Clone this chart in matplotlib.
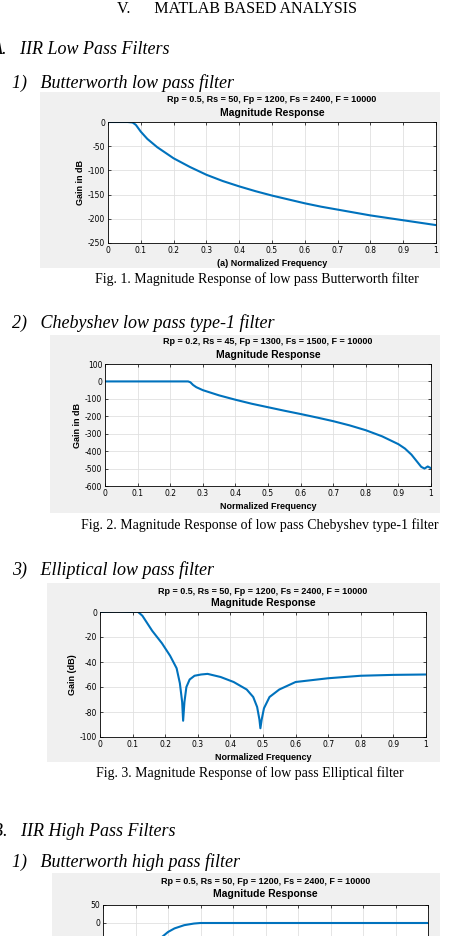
import matplotlib
matplotlib.use("Agg")
import matplotlib.pyplot as plt

plt.rcParams["axes.unicode_minus"] = False
W, H = 474, 936
BLUE = "#0072BD"

bw_x = [0, 0.02, 0.04, 0.06, 0.075, 0.085, 0.1, 0.12, 0.15, 0.2, 0.25, 0.3, 0.35, 0.4, 0.45, 0.5, 0.55, 0.6, 0.65, 0.7, 0.75, 0.8, 0.85, 0.9, 0.95, 1.0]
bw_y = [0, 0, 0, 0, -1, -6, -20, -35, -52, -75, -93, -109, -122, -133, -143, -152, -160, -168, -175, -181, -187, -193, -198, -203, -208, -213]

ch_x = [0, 0.1, 0.2, 0.255, 0.262, 0.27, 0.28, 0.3, 0.35, 0.4, 0.45, 0.5, 0.55, 0.6, 0.65, 0.7, 0.75, 0.8, 0.85, 0.9, 0.92, 0.94, 0.955, 0.97, 0.98, 0.99, 1.0]
ch_y = [0, 0, 0, 0, -5, -20, -33, -50, -80, -105, -128, -148, -168, -187, -207, -228, -252, -280, -315, -360, -385, -420, -455, -490, -500, -488, -498]

el_x = [0, 0.05, 0.1, 0.115, 0.13, 0.16, 0.19, 0.215, 0.235, 0.245, 0.252, 0.255, 0.259, 0.265, 0.275, 0.29, 0.31, 0.33, 0.37, 0.41, 0.45, 0.47, 0.482, 0.489, 0.492, 0.496, 0.503, 0.52, 0.55, 0.6, 0.7, 0.8, 0.9, 1.0]
el_y = [0, 0.4, 0, 0.5, -3, -15, -25, -35, -45, -57, -72, -87, -72, -60, -54, -51, -50, -49.5, -52, -56, -62, -68, -76, -86, -93, -86, -77, -68, -62, -56, -53, -51, -50.3, -50]

hp_x = [0.17, 0.18, 0.2, 0.22, 0.25, 0.28, 0.3, 0.4, 0.6, 0.8, 1.0]
hp_y = [-50, -40, -25, -15, -6, -1.5, 0, 0, 0, 0, 0]

fig = plt.figure(figsize=(W/100, H/100), dpi=100)
fig.patch.set_facecolor("white")
SERIF = "Liberation Serif"
SANS = "Liberation Sans"

def fy(y):
    return 1 - y / H

def fx(x):
    return x / W

def txt(x, y, s, size, style="normal", ha="left", family=SERIF, weight="normal"):
    fig.text(fx(x), fy(y), s, fontsize=size, style=style, ha=ha, va="center",
             family=family, weight=weight)

def panel(gx0, gx1, gy0, gy1, ax0, ax1, ay0, ay1, title1, xlabel, ylabel,
          xs, ys, ylim, yticks, xlabel_y, t1y, t2y, show_x=True):
    bg = fig.add_axes([fx(gx0), fy(gy1), fx(gx1 - gx0), (gy1 - gy0) / H])
    bg.set_facecolor("#F0F0F0")
    bg.set_xticks([]); bg.set_yticks([])
    for s in bg.spines.values():
        s.set_visible(False)
    bg.set_zorder(0)
    ax = fig.add_axes([fx(ax0), fy(ay1), fx(ax1 - ax0), (ay1 - ay0) / H])
    ax.set_zorder(1)
    ax.set_facecolor("white")
    ax.plot(xs, ys, color=BLUE, lw=1.5)
    ax.set_xlim(0, 1)
    ax.set_ylim(*ylim)
    ax.set_xticks([i / 10 for i in range(11)])
    ax.set_xticklabels(["0"] + [f"{i/10:g}" for i in range(1, 10)] + ["1"])
    ax.set_yticks(yticks)
    ax.grid(True, color="#E0E0E0", lw=0.6)
    ax.tick_params(labelsize=5.5, length=2, width=0.5, pad=2, direction="in", top=True, right=True,
                   labelbottom=show_x)
    for s in ax.spines.values():
        s.set_linewidth(0.6)
    if xlabel:
        fig.text(fx((ax0 + ax1) / 2), fy(xlabel_y), xlabel, fontsize=6.5, weight="bold",
                 family=SANS, ha="center", va="center")
    if ylabel:
        ax.set_ylabel(ylabel, fontsize=6.5, weight="bold", family=SANS, labelpad=2)
    fig.text(fx((ax0 + ax1) / 2), fy(t1y), title1, fontsize=6.5, weight="bold",
             family=SANS, ha="center", va="center")
    fig.text(fx((ax0 + ax1) / 2), fy(t2y), "Magnitude Response", fontsize=7.5, weight="bold",
             family=SANS, ha="center", va="center")
    return ax

txt(237, 9, "V.      MATLAB BASED ANALYSIS", 11.5, ha="center")
txt(-8, 50, "A.   IIR Low Pass Filters", 13, style="italic")
txt(12, 83, "1)   Butterworth low pass filter", 13, style="italic")

panel(40, 440, 92, 268, 108, 436, 122, 243,
      "Rp = 0.5, Rs = 50, Fp = 1200, Fs = 2400, F = 10000",
      "(a) Normalized Frequency", "Gain in dB", bw_x, bw_y,
      (-250, 0), [0, -50, -100, -150, -200, -250], 264, 100, 113)
txt(257, 279, "Fig. 1. Magnitude Response of low pass Butterworth filter", 10, ha="center")

txt(12, 323, "2)   Chebyshev low pass type-1 filter", 13, style="italic")
panel(50, 440, 335, 513, 105, 431, 364, 486,
      "Rp = 0.2, Rs = 45, Fp = 1300, Fs = 1500, F = 10000",
      "Normalized Frequency", "Gain in dB", ch_x, ch_y,
      (-600, 100), [100, 0, -100, -200, -300, -400, -500, -600], 507, 342, 355)
txt(260, 525, "Fig. 2. Magnitude Response of low pass Chebyshev type-1 filter", 10, ha="center")

txt(12, 570, "3)   Elliptical low pass filter", 13, style="italic")
panel(47, 440, 583, 762, 100, 426, 612, 737,
      "Rp = 0.5, Rs = 50, Fp = 1200, Fs = 2400, F = 10000",
      "Normalized Frequency", "Gain (dB)", el_x, el_y,
      (-100, 0), [0, -20, -40, -60, -80, -100], 757, 591, 603)
txt(250, 773, "Fig. 3. Magnitude Response of low pass Elliptical filter", 10, ha="center")

txt(-8, 832, "B.   IIR High Pass Filters", 13, style="italic")
txt(12, 862, "1)   Butterworth high pass filter", 13, style="italic")
panel(52, 440, 873, 1040, 103, 428, 905, 1013,
      "Rp = 0.5, Rs = 50, Fp = 1200, Fs = 2400, F = 10000",
      None, "", hp_x, hp_y,
      (-250, 50), [50, 0], 0, 882, 894, show_x=False)

fig.savefig("out.png", dpi=100)
